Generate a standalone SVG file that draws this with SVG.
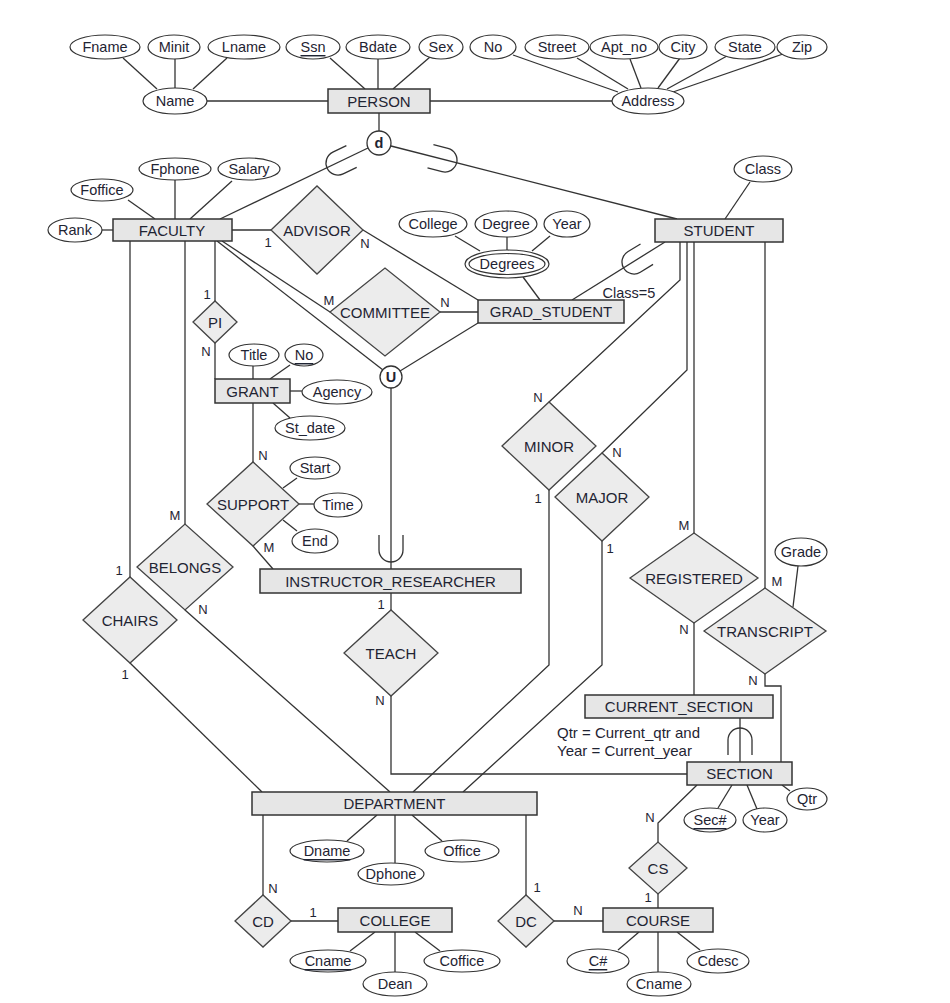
<svg xmlns="http://www.w3.org/2000/svg" width="950" height="1003" viewBox="0 0 950 1003">
<style>
.e{fill:#fff;stroke:#333;stroke-width:1.2}
.r{fill:#e6e6e6;stroke:#333;stroke-width:1.5}
.d{fill:#ececec;stroke:#444;stroke-width:1.3}
.c{fill:#fff;stroke:#333;stroke-width:1.3}
.ln{fill:none;stroke:#333;stroke-width:1.3}
.t{font-family:"Liberation Sans",Arial,sans-serif;font-size:14.5px;fill:#1f2433;text-anchor:middle;dominant-baseline:central}
.T{font-family:"Liberation Sans",Arial,sans-serif;font-size:15px;fill:#1f2433;text-anchor:middle;dominant-baseline:central}
.k{font-family:"Liberation Sans",Arial,sans-serif;font-size:13px;fill:#1f2433;text-anchor:middle;dominant-baseline:central}
.n{font-family:"Liberation Sans",Arial,sans-serif;font-size:15px;fill:#1f2433}
.b{font-weight:bold}
.u{text-decoration:underline}
</style>
<defs>
<path id="sub" d="M -15,-12 L 0,-12 A 12,12 0 0 1 0,12 L -15,12" fill="none" stroke="#333" stroke-width="1.3"/>
</defs>
<g id="connectors">
<line class="ln" x1="123" y1="58" x2="157" y2="89"/>
<line class="ln" x1="175" y1="59" x2="175" y2="88"/>
<line class="ln" x1="227" y1="58" x2="193" y2="89"/>
<line class="ln" x1="207" y1="101" x2="328" y2="101"/>
<line class="ln" x1="330" y1="58" x2="365" y2="89"/>
<line class="ln" x1="378" y1="59" x2="378" y2="89"/>
<line class="ln" x1="430" y1="57" x2="393" y2="89"/>
<line class="ln" x1="430" y1="101" x2="612" y2="101"/>
<line class="ln" x1="513" y1="55" x2="618" y2="92"/>
<line class="ln" x1="577" y1="58" x2="628" y2="89"/>
<line class="ln" x1="630" y1="59" x2="641" y2="88"/>
<line class="ln" x1="680" y1="58" x2="658" y2="88"/>
<line class="ln" x1="727" y1="56" x2="667" y2="89"/>
<line class="ln" x1="783" y1="54" x2="673" y2="92"/>
<line class="ln" x1="379" y1="113" x2="379" y2="131"/>
<line class="ln" x1="368" y1="148" x2="220" y2="219"/>
<line class="ln" x1="391" y1="146" x2="677" y2="219"/>
<use href="#sub" transform="translate(338,163) rotate(154.5)"/>
<use href="#sub" transform="translate(445,160) rotate(14.3)"/>
<line class="ln" x1="102" y1="230" x2="113" y2="230"/>
<line class="ln" x1="128" y1="200" x2="155" y2="219"/>
<line class="ln" x1="175" y1="180" x2="175" y2="219"/>
<line class="ln" x1="232" y1="181" x2="190" y2="219"/>
<line class="ln" x1="232" y1="230" x2="271" y2="230"/>
<line class="ln" x1="363" y1="230" x2="478" y2="300"/>
<line class="ln" x1="222" y1="241" x2="330" y2="312"/>
<line class="ln" x1="217" y1="241" x2="383" y2="370"/>
<line class="ln" x1="440" y1="312" x2="478" y2="312"/>
<line class="ln" x1="400" y1="371" x2="478" y2="323"/>
<line class="ln" x1="391" y1="388" x2="391" y2="569"/>
<use href="#sub" transform="translate(391,550) rotate(90)"/>
<line class="ln" x1="215" y1="241" x2="215" y2="301"/>
<line class="ln" x1="215" y1="343" x2="215" y2="379"/>
<line class="ln" x1="253" y1="366" x2="253" y2="379"/>
<line class="ln" x1="290" y1="365" x2="270" y2="379"/>
<line class="ln" x1="290" y1="391" x2="302" y2="391"/>
<line class="ln" x1="273" y1="403" x2="290" y2="418"/>
<line class="ln" x1="253" y1="403" x2="253" y2="462"/>
<line class="ln" x1="283" y1="488" x2="297" y2="478"/>
<line class="ln" x1="299" y1="504" x2="314" y2="504"/>
<line class="ln" x1="283" y1="520" x2="297" y2="531"/>
<line class="ln" x1="253" y1="546" x2="273" y2="569"/>
<line class="ln" x1="130" y1="241" x2="130" y2="577"/>
<line class="ln" x1="185" y1="241" x2="185" y2="524"/>
<line class="ln" x1="185" y1="610" x2="390" y2="792"/>
<line class="ln" x1="130" y1="663" x2="262" y2="792"/>
<line class="ln" x1="391" y1="593" x2="391" y2="610"/>
<polyline class="ln" points="391,696 391,774 687,774"/>
<line class="ln" x1="750" y1="182" x2="725" y2="219"/>
<line class="ln" x1="572" y1="300" x2="665" y2="242"/>
<use href="#sub" transform="translate(634,262) rotate(148.5)"/>
<line class="ln" x1="523" y1="277" x2="540" y2="300"/>
<line class="ln" x1="455" y1="236" x2="480" y2="251"/>
<line class="ln" x1="507" y1="237" x2="507" y2="250"/>
<line class="ln" x1="550" y1="236" x2="532" y2="251"/>
<polyline class="ln" points="680,242 680,280 549,402"/>
<polyline class="ln" points="687,242 687,370 602,453"/>
<line class="ln" x1="694" y1="242" x2="694" y2="533"/>
<line class="ln" x1="765" y1="242" x2="765" y2="588"/>
<polyline class="ln" points="549,490 549,665 413,792"/>
<polyline class="ln" points="602,541 602,665 463,792"/>
<line class="ln" x1="694" y1="623" x2="694" y2="695"/>
<polyline class="ln" points="765,674 765,686 781,686 781,762"/>
<line class="ln" x1="798" y1="566" x2="793" y2="607"/>
<line class="ln" x1="740" y1="718" x2="740" y2="762"/>
<use href="#sub" transform="translate(740,740) rotate(-90)"/>
<line class="ln" x1="732" y1="785" x2="718" y2="808"/>
<line class="ln" x1="747" y1="785" x2="757" y2="809"/>
<line class="ln" x1="782" y1="785" x2="790" y2="791"/>
<polyline class="ln" points="697,785 658,823 658,842"/>
<line class="ln" x1="658" y1="894" x2="658" y2="908"/>
<line class="ln" x1="263" y1="815" x2="263" y2="895"/>
<line class="ln" x1="291" y1="921" x2="338" y2="921"/>
<line class="ln" x1="526" y1="815" x2="526" y2="895"/>
<line class="ln" x1="554" y1="921" x2="603" y2="921"/>
<line class="ln" x1="377" y1="815" x2="347" y2="841"/>
<line class="ln" x1="395" y1="815" x2="395" y2="863"/>
<line class="ln" x1="412" y1="815" x2="442" y2="841"/>
<line class="ln" x1="375" y1="932" x2="350" y2="951"/>
<line class="ln" x1="395" y1="932" x2="395" y2="972"/>
<line class="ln" x1="415" y1="932" x2="440" y2="951"/>
<line class="ln" x1="639" y1="932" x2="618" y2="950"/>
<line class="ln" x1="658" y1="932" x2="658" y2="972"/>
<line class="ln" x1="677" y1="932" x2="700" y2="950"/>
</g>
<g id="cardinalities">
<text class="k" x="268" y="242">1</text>
<text class="k" x="365" y="243">N</text>
<text class="k" x="329" y="300">M</text>
<text class="k" x="445" y="302">N</text>
<text class="k" x="207" y="294">1</text>
<text class="k" x="206" y="351">N</text>
<text class="k" x="263" y="455">N</text>
<text class="k" x="269" y="547">M</text>
<text class="k" x="175" y="515">M</text>
<text class="k" x="119" y="570">1</text>
<text class="k" x="203" y="609">N</text>
<text class="k" x="125" y="674">1</text>
<text class="k" x="381" y="604">1</text>
<text class="k" x="380" y="700">N</text>
<text class="k" x="538" y="397">N</text>
<text class="k" x="538" y="498">1</text>
<text class="k" x="617" y="452">N</text>
<text class="k" x="610" y="548">1</text>
<text class="k" x="684" y="525">M</text>
<text class="k" x="684" y="629">N</text>
<text class="k" x="777" y="581">M</text>
<text class="k" x="753" y="680">N</text>
<text class="k" x="650" y="817">N</text>
<text class="k" x="648" y="897">1</text>
<text class="k" x="273" y="888">N</text>
<text class="k" x="313" y="912">1</text>
<text class="k" x="537" y="887">1</text>
<text class="k" x="578" y="910">N</text>
<text class="t" x="629" y="293">Class=5</text>
<text class="n" x="557" y="738">Qtr = Current_qtr and</text>
<text class="n" x="557" y="756">Year = Current_year</text>
</g>
<g id="PERSON"><rect class="r" x="328" y="89" width="102" height="24"/><text class="T" x="379" y="101">PERSON</text></g>
<g id="FACULTY"><rect class="r" x="113" y="219" width="119" height="22"/><text class="T" x="172" y="230">FACULTY</text></g>
<g id="STUDENT"><rect class="r" x="655" y="219" width="128" height="23"/><text class="T" x="719" y="230.5">STUDENT</text></g>
<g id="GRAD_STUDENT"><rect class="r" x="478" y="300" width="146" height="23"/><text class="T" x="551" y="311.5">GRAD_STUDENT</text></g>
<g id="GRANT"><rect class="r" x="215" y="379" width="75" height="24"/><text class="T" x="252.5" y="391">GRANT</text></g>
<g id="INSTRUCTOR_RESEARCHER"><rect class="r" x="260" y="569" width="261" height="24"/><text class="T" x="390.5" y="581">INSTRUCTOR_RESEARCHER</text></g>
<g id="CURRENT_SECTION"><rect class="r" x="585" y="695" width="188" height="23"/><text class="T" x="679" y="706.5">CURRENT_SECTION</text></g>
<g id="SECTION"><rect class="r" x="687" y="762" width="105" height="23"/><text class="T" x="739.5" y="773.5">SECTION</text></g>
<g id="DEPARTMENT"><rect class="r" x="252" y="792" width="285" height="23"/><text class="T" x="394.5" y="803.5">DEPARTMENT</text></g>
<g id="COLLEGE"><rect class="r" x="338" y="908" width="114" height="24"/><text class="T" x="395" y="920">COLLEGE</text></g>
<g id="COURSE"><rect class="r" x="603" y="908" width="110" height="24"/><text class="T" x="658" y="920">COURSE</text></g>
<g id="ADVISOR"><polygon class="d" points="271,230 317,186 363,230 317,274"/><text class="T" x="317" y="230">ADVISOR</text></g>
<g id="COMMITTEE"><polygon class="d" points="330,312 385,268 440,312 385,356"/><text class="T" x="385" y="312">COMMITTEE</text></g>
<g id="PI"><polygon class="d" points="193,322 215,301 237,322 215,343"/><text class="T" x="215" y="322">PI</text></g>
<g id="SUPPORT"><polygon class="d" points="207,504 253,462 299,504 253,546"/><text class="T" x="253" y="504">SUPPORT</text></g>
<g id="BELONGS"><polygon class="d" points="137,567 185,524 233,567 185,610"/><text class="T" x="185" y="567">BELONGS</text></g>
<g id="CHAIRS"><polygon class="d" points="83,620 130,577 177,620 130,663"/><text class="T" x="130" y="620">CHAIRS</text></g>
<g id="TEACH"><polygon class="d" points="344,653 391,610 438,653 391,696"/><text class="T" x="391" y="653">TEACH</text></g>
<g id="MINOR"><polygon class="d" points="502,446 549,402 596,446 549,490"/><text class="T" x="549" y="446">MINOR</text></g>
<g id="MAJOR"><polygon class="d" points="555,497 602,453 649,497 602,541"/><text class="T" x="602" y="497">MAJOR</text></g>
<g id="REGISTERED"><polygon class="d" points="630,578 694,533 758,578 694,623"/><text class="T" x="694" y="578">REGISTERED</text></g>
<g id="TRANSCRIPT"><polygon class="d" points="704,631 765,588 826,631 765,674"/><text class="T" x="765" y="631">TRANSCRIPT</text></g>
<g id="CS"><polygon class="d" points="629,868 658,842 687,868 658,894"/><text class="T" x="658" y="868">CS</text></g>
<g id="CD"><polygon class="d" points="235,921 263,895 291,921 263,947"/><text class="T" x="263" y="921">CD</text></g>
<g id="DC"><polygon class="d" points="498,921 526,895 554,921 526,947"/><text class="T" x="526" y="921">DC</text></g>
<g id="d_circle"><circle class="c" cx="379" cy="143" r="12"/><text class="t b" x="379" y="143">d</text></g>
<g id="U_circle"><circle class="c" cx="391" cy="377" r="11"/><text class="t b" x="391" y="377">U</text></g>
<g id="Fname"><ellipse class="e" cx="105" cy="47" rx="35" ry="12"/><text class="t" x="105" y="47">Fname</text></g>
<g id="Minit"><ellipse class="e" cx="174" cy="47" rx="26" ry="12"/><text class="t" x="174" y="47">Minit</text></g>
<g id="Lname"><ellipse class="e" cx="244" cy="47" rx="36" ry="12"/><text class="t" x="244" y="47">Lname</text></g>
<g id="Ssn"><ellipse class="e" cx="313" cy="47" rx="27" ry="12"/><text class="t u" x="313" y="47">Ssn</text></g>
<g id="Bdate"><ellipse class="e" cx="378" cy="47" rx="32" ry="12"/><text class="t" x="378" y="47">Bdate</text></g>
<g id="Sex"><ellipse class="e" cx="441" cy="47" rx="22" ry="12"/><text class="t" x="441" y="47">Sex</text></g>
<g id="No"><ellipse class="e" cx="493" cy="47" rx="23" ry="12"/><text class="t" x="493" y="47">No</text></g>
<g id="Street"><ellipse class="e" cx="557" cy="47" rx="32" ry="12"/><text class="t" x="557" y="47">Street</text></g>
<g id="Apt_no"><ellipse class="e" cx="624" cy="47" rx="34" ry="12"/><text class="t" x="624" y="47">Apt_no</text></g>
<g id="City"><ellipse class="e" cx="683" cy="47" rx="24" ry="12"/><text class="t" x="683" y="47">City</text></g>
<g id="State"><ellipse class="e" cx="745" cy="47" rx="30" ry="12"/><text class="t" x="745" y="47">State</text></g>
<g id="Zip"><ellipse class="e" cx="802" cy="47" rx="25" ry="12"/><text class="t" x="802" y="47">Zip</text></g>
<g id="Name"><ellipse class="e" cx="175" cy="101" rx="32" ry="13"/><text class="t" x="175" y="101">Name</text></g>
<g id="Address"><ellipse class="e" cx="648" cy="101" rx="36" ry="13"/><text class="t" x="648" y="101">Address</text></g>
<g id="Rank"><ellipse class="e" cx="75" cy="230" rx="27" ry="12"/><text class="t" x="75" y="230">Rank</text></g>
<g id="Foffice"><ellipse class="e" cx="102" cy="190" rx="31" ry="11"/><text class="t" x="102" y="190">Foffice</text></g>
<g id="Fphone"><ellipse class="e" cx="175" cy="169" rx="36" ry="11"/><text class="t" x="175" y="169">Fphone</text></g>
<g id="Salary"><ellipse class="e" cx="249" cy="169" rx="31" ry="11"/><text class="t" x="249" y="169">Salary</text></g>
<g id="Class"><ellipse class="e" cx="763" cy="169" rx="29" ry="13"/><text class="t" x="763" y="169">Class</text></g>
<g id="College"><ellipse class="e" cx="433" cy="224" rx="34" ry="13"/><text class="t" x="433" y="224">College</text></g>
<g id="Degree"><ellipse class="e" cx="506" cy="224" rx="31" ry="13"/><text class="t" x="506" y="224">Degree</text></g>
<g id="Year"><ellipse class="e" cx="567" cy="224" rx="23" ry="13"/><text class="t" x="567" y="224">Year</text></g>
<g id="Degrees"><ellipse class="e" cx="507" cy="264" rx="42" ry="14"/><ellipse class="e" cx="507" cy="264" rx="38" ry="10.5"/><text class="t" x="507" y="264">Degrees</text></g>
<g id="Title"><ellipse class="e" cx="254" cy="355" rx="25" ry="11"/><text class="t" x="254" y="355">Title</text></g>
<g id="GrantNo"><ellipse class="e" cx="304" cy="355" rx="19" ry="11"/><text class="t u" x="304" y="355">No</text></g>
<g id="Agency"><ellipse class="e" cx="337" cy="392" rx="35" ry="12"/><text class="t" x="337" y="392">Agency</text></g>
<g id="St_date"><ellipse class="e" cx="310" cy="428" rx="35" ry="12"/><text class="t" x="310" y="428">St_date</text></g>
<g id="Start"><ellipse class="e" cx="315" cy="468" rx="25" ry="11"/><text class="t" x="315" y="468">Start</text></g>
<g id="Time"><ellipse class="e" cx="338" cy="505" rx="24" ry="12"/><text class="t" x="338" y="505">Time</text></g>
<g id="End"><ellipse class="e" cx="315" cy="541" rx="23" ry="12"/><text class="t" x="315" y="541">End</text></g>
<g id="Grade"><ellipse class="e" cx="801" cy="552" rx="26" ry="14"/><text class="t" x="801" y="552">Grade</text></g>
<g id="SecNo"><ellipse class="e" cx="710" cy="820" rx="26" ry="12"/><text class="t u" x="710" y="820">Sec#</text></g>
<g id="SecYear"><ellipse class="e" cx="765" cy="820" rx="22" ry="12"/><text class="t" x="765" y="820">Year</text></g>
<g id="Qtr"><ellipse class="e" cx="807" cy="799" rx="20" ry="11"/><text class="t" x="807" y="799">Qtr</text></g>
<g id="Dname"><ellipse class="e" cx="327" cy="851" rx="37" ry="11"/><text class="t u" x="327" y="851">Dname</text></g>
<g id="Dphone"><ellipse class="e" cx="391" cy="874" rx="33" ry="11"/><text class="t" x="391" y="874">Dphone</text></g>
<g id="Office"><ellipse class="e" cx="462" cy="851" rx="37" ry="11"/><text class="t" x="462" y="851">Office</text></g>
<g id="CollegeCname"><ellipse class="e" cx="328" cy="961" rx="38" ry="11"/><text class="t u" x="328" y="961">Cname</text></g>
<g id="Dean"><ellipse class="e" cx="395" cy="984" rx="32" ry="12"/><text class="t" x="395" y="984">Dean</text></g>
<g id="Coffice"><ellipse class="e" cx="462" cy="961" rx="38" ry="11"/><text class="t" x="462" y="961">Coffice</text></g>
<g id="CNo"><ellipse class="e" cx="598" cy="961" rx="31" ry="12"/><text class="t u" x="598" y="961">C#</text></g>
<g id="CourseCname"><ellipse class="e" cx="659" cy="984" rx="32" ry="12"/><text class="t" x="659" y="984">Cname</text></g>
<g id="Cdesc"><ellipse class="e" cx="718" cy="961" rx="31" ry="12"/><text class="t" x="718" y="961">Cdesc</text></g>
</svg>
